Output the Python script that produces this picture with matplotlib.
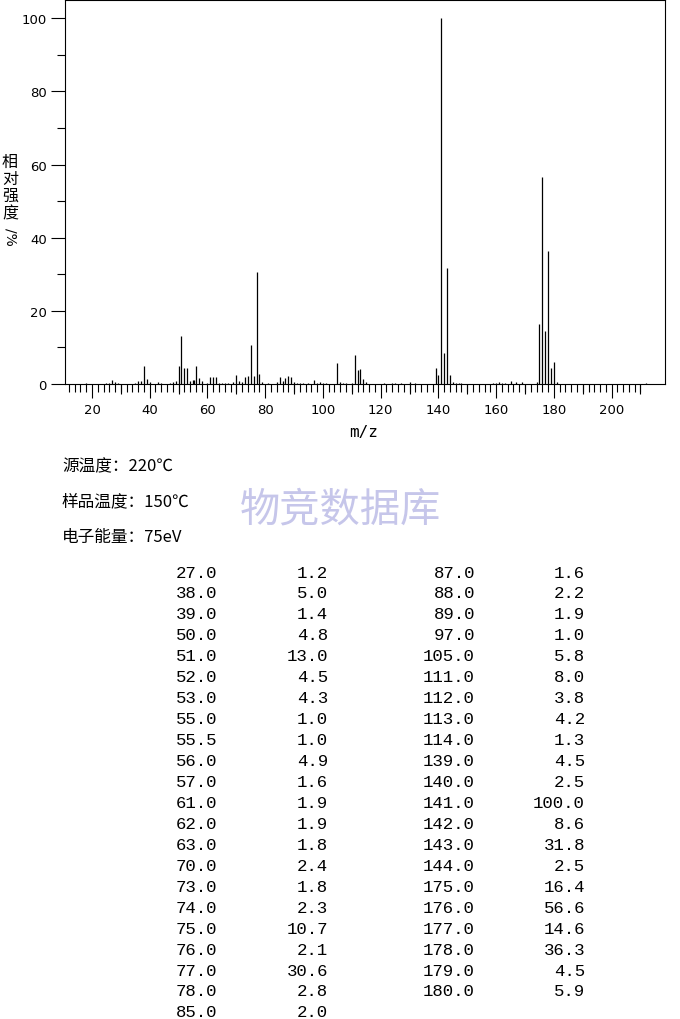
import numpy as np
import matplotlib
matplotlib.use("Agg")
import matplotlib.pyplot as plt

plt.rcParams['font.family'] = ['Noto Sans CJK SC', 'DejaVu Sans']

# ---- data (from the peak table) ----
mz_left = [27.0, 38.0, 39.0, 50.0, 51.0, 52.0, 53.0, 55.0, 55.5, 56.0, 57.0,
           61.0, 62.0, 63.0, 70.0, 73.0, 74.0, 75.0, 76.0, 77.0, 78.0, 85.0]
int_left = [1.2, 5.0, 1.4, 4.8, 13.0, 4.5, 4.3, 1.0, 1.0, 4.9, 1.6,
            1.9, 1.9, 1.8, 2.4, 1.8, 2.3, 10.7, 2.1, 30.6, 2.8, 2.0]
mz_right = [87.0, 88.0, 89.0, 97.0, 105.0, 111.0, 112.0, 113.0, 114.0, 139.0, 140.0,
            141.0, 142.0, 143.0, 144.0, 175.0, 176.0, 177.0, 178.0, 179.0, 180.0]
int_right = [1.6, 2.2, 1.9, 1.0, 5.8, 8.0, 3.8, 4.2, 1.3, 4.5, 2.5,
             100.0, 8.6, 31.8, 2.5, 16.4, 56.6, 14.6, 36.3, 4.5, 5.9]

# small peaks below 1 % visible in the spectrum (estimated)
minor_mz = [18, 25, 26, 28, 29, 35, 36, 37, 40, 43, 44, 47, 48, 49, 54, 58, 60,
            64, 65, 66, 67, 69, 71, 72, 79, 81, 84, 86, 90, 91, 92, 93, 95, 98,
            99, 100, 101, 106, 107, 108, 110, 115, 121, 124, 125, 127, 130, 132,
            145, 146, 147, 148, 159, 160, 161, 162, 163, 165, 167, 169, 174, 181, 212]
minor_int = [0.3, 0.4, 0.4, 0.5, 0.4, 0.3, 0.8, 0.9, 0.5, 0.6, 0.4, 0.4, 0.5, 0.8, 0.7, 0.7, 0.4,
             0.4, 0.4, 0.4, 0.4, 0.6, 0.8, 0.5, 0.6, 0.3, 0.6, 0.9, 0.5, 0.4, 0.4, 0.3, 0.4, 0.4,
             0.5, 0.3, 0.3, 0.5, 0.4, 0.4, 0.3, 0.5, 0.3, 0.3, 0.3, 0.3, 0.5, 0.3,
             0.6, 0.4, 0.4, 0.3, 0.4, 0.4, 0.5, 0.4, 0.4, 0.8, 0.5, 0.5, 0.5, 0.6, 0.3]

info_lines = ["源温度：220℃", "样品温度：150℃", "电子能量：75eV"]

W, H = 680, 1020
fig = plt.figure(figsize=(W / 100, H / 100), dpi=100)
fig.patch.set_facecolor('white')

def fx(px):
    return px / W

def fy(py):
    return 1 - py / H

ax = fig.add_axes([fx(65), fy(385), fx(665) - fx(65), fy(1) - fy(385)])
mz_all = mz_left + mz_right + minor_mz
int_all = int_left + int_right + minor_int
ax.vlines(mz_all, 0, int_all, colors='black', linewidth=0.9)

ax.set_xlim(10.65, 218.5)
ax.set_ylim(0, 105)
for s in ax.spines.values():
    s.set_linewidth(0.8)
    s.set_color('black')

ax.set_xticks(np.arange(20, 201, 20))
ax.set_xticks(np.arange(12, 211, 2), minor=True)
ax.set_yticks(np.arange(0, 101, 20))
ax.set_yticks(np.arange(10, 101, 20), minor=True)
ax.tick_params(axis='both', which='major', direction='out', length=10, width=0.8,
               labelsize=9.5, pad=3)
ax.tick_params(axis='both', which='minor', direction='out', length=5.5, width=0.8)
ax.tick_params(axis='x', which='major', pad=4)
for lab in ax.get_xticklabels() + ax.get_yticklabels():
    lab.set_family('DejaVu Sans')

sec = ax.secondary_xaxis('bottom')
sec.set_xticks(np.arange(30, 211, 20))
sec.tick_params(axis='x', which='major', direction='out', length=7.5, width=0.8,
                labelbottom=False)
sec.spines['bottom'].set_visible(False)

# axis labels
fig.text(fx(364), fy(433), "m/z", ha='center', va='center', fontsize=11.5,
         family='DejaVu Sans Mono')
fig.text(fx(10), fy(188), "相\n对\n强\n度", ha='center', va='center',
         fontsize=11.5, linespacing=1.0)
fig.text(fx(10), fy(237), "/%", ha='center', va='center', fontsize=10,
         rotation=-90, family='DejaVu Sans')

# info lines
for i, t in enumerate(info_lines):
    fig.text(fx(62), fy(467 + i * 35), t, ha='left', va='center', fontsize=12)

# watermark
fig.text(fx(340), fy(510), "物竞数据库", ha='center', va='center', fontsize=29,
         color='#c6c6ea', fontweight='normal')

# peak table
row0, dy = 573, 20.95
for i, (m, v) in enumerate(zip(mz_left, int_left)):
    y = fy(row0 + i * dy)
    fig.text(fx(217), y, f"{m:.1f}", ha='right', va='center', fontsize=12.5,
             family='Liberation Mono')
    fig.text(fx(328), y, f"{v:.1f}", ha='right', va='center', fontsize=12.5,
             family='Liberation Mono')
for i, (m, v) in enumerate(zip(mz_right, int_right)):
    y = fy(row0 + i * dy)
    fig.text(fx(475), y, f"{m:.1f}", ha='right', va='center', fontsize=12.5,
             family='Liberation Mono')
    fig.text(fx(585), y, f"{v:.1f}", ha='right', va='center', fontsize=12.5,
             family='Liberation Mono')

fig.savefig("out.png", dpi=100, facecolor='white')
